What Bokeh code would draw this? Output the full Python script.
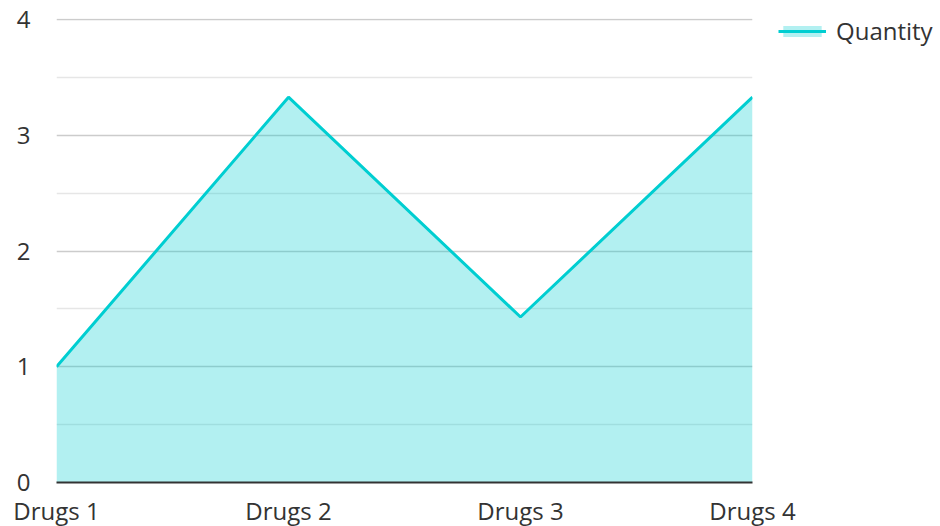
from bokeh.plotting import figure
from bokeh.models import Range1d, FixedTicker, Legend, LegendItem
from bokeh.embed import file_html
from bokeh.resources import INLINE

categories = ["Drugs 1", "Drugs 2", "Drugs 3", "Drugs 4"]
quantity = [1, 3.33, 1.43, 3.33]
y_ticks = [0, 1, 2, 3, 4]
y_minor = [0.5, 1.5, 2.5, 3.5]
series_name = "Quantity"

FONT = "Open Sans"
xs = list(range(len(categories)))

p = figure(width=940, height=518, output_backend="svg", toolbar_location=None,
           x_range=Range1d(0, len(categories) - 1), y_range=Range1d(0, 4.01),
           frame_width=696, frame_height=464,
           min_border_left=56, min_border_right=188, min_border_top=18, min_border_bottom=36)
p.outline_line_color = None
p.background_fill_color = "white"

area = p.varea(x=xs, y1=[0] * len(xs), y2=quantity, fill_color="#00CED1", fill_alpha=0.3)
line = p.line(x=xs, y=quantity, line_color="#00CED1", line_width=3)

p.xaxis.ticker = FixedTicker(ticks=xs)
p.xaxis.major_label_overrides = {i: c for i, c in enumerate(categories)}
p.xaxis.axis_line_color = "#333333"
p.xaxis.axis_line_width = 2
p.xaxis.major_tick_line_color = None
p.xaxis.minor_tick_line_color = None
p.xaxis.major_label_standoff = 5
p.xaxis.major_label_text_font = FONT
p.xaxis.major_label_text_font_size = "24px"
p.xaxis.major_label_text_color = "#333333"

p.yaxis.ticker = FixedTicker(ticks=y_ticks, minor_ticks=y_minor)
p.yaxis.axis_line_color = None
p.yaxis.major_tick_line_color = None
p.yaxis.minor_tick_line_color = None
p.yaxis.major_label_standoff = 20
p.yaxis.major_label_text_font = FONT
p.yaxis.major_label_text_font_size = "24px"
p.yaxis.major_label_text_color = "#333333"

p.xgrid.grid_line_color = None
p.ygrid.grid_line_color = "#cccccc"
p.ygrid.grid_line_width = 1.5
p.ygrid.minor_grid_line_color = "#e6e6e6"
p.ygrid.minor_grid_line_width = 1.5

legend = Legend(items=[LegendItem(label=series_name, renderers=[area, line])],
                location=(26, 435), orientation="vertical",
                label_text_font=FONT, label_text_font_size="24px", label_text_color="#333333",
                glyph_width=48, glyph_height=14, border_line_color=None,
                background_fill_alpha=0, padding=0, margin=0, label_standoff=10)
p.add_layout(legend, "right")

open("out.html", "w").write(file_html(p, INLINE))
